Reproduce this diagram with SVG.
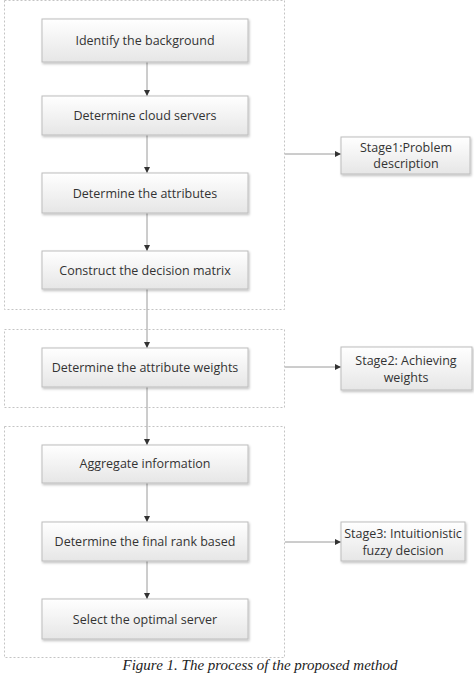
<svg xmlns="http://www.w3.org/2000/svg" width="474" height="676" viewBox="0 0 474 676">
<defs>
<linearGradient id="g" x1="0" y1="0" x2="0" y2="1">
<stop offset="0" stop-color="#ffffff"/>
<stop offset="1" stop-color="#e6e6e6"/>
</linearGradient>
<marker id="ah" markerWidth="6" markerHeight="6" refX="6" refY="3" orient="auto" markerUnits="userSpaceOnUse">
<path d="M0,0 L6,3 L0,6 Z" fill="#333"/>
</marker>
<filter id="sh" x="-5%" y="-10%" width="110%" height="130%">
<feDropShadow dx="1" dy="1.5" stdDeviation="0.8" flood-color="#000" flood-opacity="0.25"/>
</filter>
</defs>
<style>
.stage{fill:none;stroke:#c4c4c4;stroke-width:1;stroke-dasharray:2 2}
.box{fill:url(#g);stroke:#bdbdbd;stroke-width:1;filter:url(#sh)}
.t{font-family:"Open Sans","Liberation Sans",sans-serif;font-size:12.5px;fill:#333;text-anchor:middle}
.c{fill:none;stroke:#9a9a9a;stroke-width:1}
.cap{font-family:"Liberation Serif",serif;font-style:italic;font-size:15px;fill:#222;text-anchor:middle}
</style>
<rect x="0" y="0" width="474" height="676" fill="#fff"/>
<g id="stage1-group"><rect class="stage" x="4.5" y="0.5" width="280" height="309"/></g>
<g id="stage2-group"><rect class="stage" x="4.5" y="329.5" width="280" height="78"/></g>
<g id="stage3-group"><rect class="stage" x="4.5" y="426.5" width="280" height="231"/></g>
<g id="connectors">
<line class="c" x1="147" y1="62" x2="147" y2="96" marker-end="url(#ah)"/>
<line class="c" x1="147" y1="135" x2="147" y2="173" marker-end="url(#ah)"/>
<line class="c" x1="147" y1="213" x2="147" y2="251" marker-end="url(#ah)"/>
<line class="c" x1="147" y1="289" x2="147" y2="348" marker-end="url(#ah)"/>
<line class="c" x1="147" y1="387" x2="147" y2="445" marker-end="url(#ah)"/>
<line class="c" x1="147" y1="483" x2="147" y2="522" marker-end="url(#ah)"/>
<line class="c" x1="147" y1="561" x2="147" y2="599" marker-end="url(#ah)"/>
<line class="c" x1="285" y1="154" x2="341" y2="154" marker-end="url(#ah)"/>
<line class="c" x1="285" y1="367" x2="341" y2="367" marker-end="url(#ah)"/>
<line class="c" x1="285" y1="542" x2="341" y2="542" marker-end="url(#ah)"/>
</g>
<g id="n1"><rect class="box" x="42" y="19" width="206" height="43"/><text class="t" x="145" y="45">Identify the background</text></g>
<g id="n2"><rect class="box" x="42" y="96" width="206" height="39"/><text class="t" x="145" y="120">Determine cloud servers</text></g>
<g id="n3"><rect class="box" x="42" y="173" width="206" height="40"/><text class="t" x="145" y="198">Determine the attributes</text></g>
<g id="n4"><rect class="box" x="42" y="251" width="206" height="38"/><text class="t" x="145" y="275">Construct the decision matrix</text></g>
<g id="n5"><rect class="box" x="42" y="348" width="206" height="39"/><text class="t" x="145" y="372">Determine the attribute weights</text></g>
<g id="n6"><rect class="box" x="42" y="445" width="206" height="38"/><text class="t" x="145" y="468">Aggregate information</text></g>
<g id="n7"><rect class="box" x="42" y="522" width="206" height="39"/><text class="t" x="145" y="546">Determine the final rank based</text></g>
<g id="n8"><rect class="box" x="42" y="599" width="206" height="40"/><text class="t" x="145" y="624">Select the optimal server</text></g>
<g id="s1"><rect class="box" x="341" y="137" width="129" height="37"/><text class="t" x="406" y="152">Stage1:Problem</text><text class="t" x="406" y="168">description</text></g>
<g id="s2"><rect class="box" x="341" y="347" width="131" height="43"/><text class="t" x="406" y="365">Stage2: Achieving</text><text class="t" x="406" y="382">weights</text></g>
<g id="s3"><rect class="box" x="341" y="522" width="124" height="39"/><text class="t" x="403" y="538">Stage3: Intuitionistic</text><text class="t" x="403" y="555">fuzzy decision</text></g>
<text class="cap" x="260" y="670">Figure 1.  The process of the proposed method</text>
</svg>
